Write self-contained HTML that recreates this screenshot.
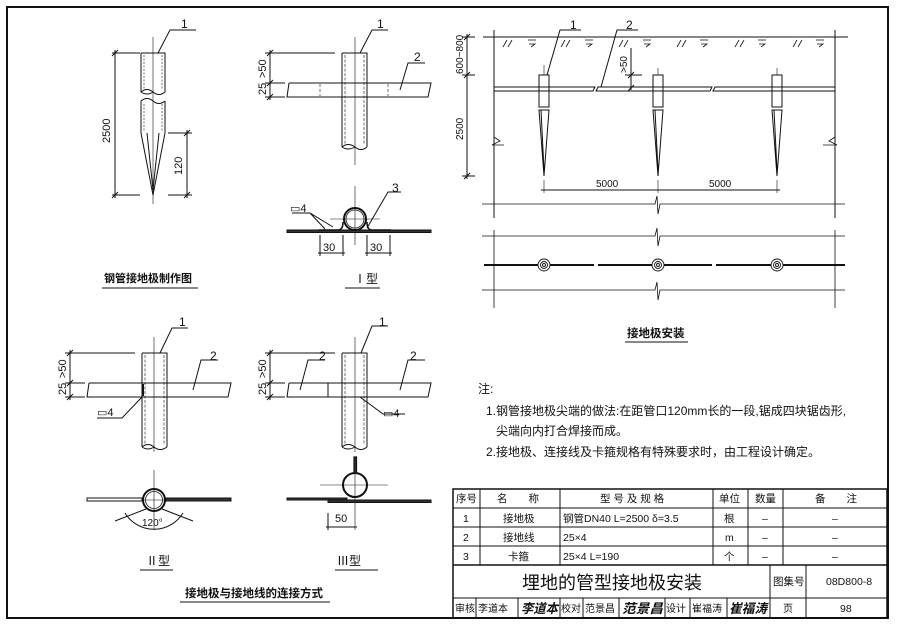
<!DOCTYPE html>
<html><head><meta charset="utf-8"><style>
html,body{margin:0;padding:0;background:#fff;}
svg{display:block;}
text{font-family:"Liberation Sans","Noto Sans CJK SC",sans-serif;fill:#111;}
</style></head><body>
<svg width="897" height="626" viewBox="0 0 897 626" xmlns="http://www.w3.org/2000/svg">
<g stroke="#111" fill="none" stroke-width="1">
<rect x="7" y="7" width="881" height="611" stroke-width="2"/>

<!-- Fig 1 -->
<line x1="153" y1="37" x2="153" y2="204" stroke-width="0.6"/>
<path d="M141 53 H165 V92 M141 53 V92"/>
<path d="M141 92 q6 -5 12 0 q6 5 12 0"/>
<path d="M141 92 q6 4 12 0" />
<path d="M141 101 q6 -5 12 0 q6 5 12 0 M141 101 V133 M165 101 V133 M141 133 L153 195 L165 133 M147 133 L153 190 L159 133"/>
<path d="M144 55 V90 M162 55 V90 M144 104 V132 M162 104 V132" stroke-dasharray="2,1.5" stroke-width="0.6"/>
<line x1="112" y1="53" x2="140" y2="53"/><line x1="112" y1="195" x2="140" y2="195"/>
<line x1="115" y1="50" x2="115" y2="198"/>
<line x1="112" y1="56" x2="118" y2="50"/><line x1="112" y1="198" x2="118" y2="192"/>
<line x1="168" y1="133" x2="192" y2="133"/><line x1="168" y1="195" x2="192" y2="195"/>
<line x1="187" y1="130" x2="187" y2="198"/>
<line x1="184" y1="136" x2="190" y2="130"/><line x1="184" y1="198" x2="190" y2="192"/>
<path d="M158 53 L170 30 H196"/>
<line x1="102" y1="288" x2="198" y2="288"/>

<!-- Fig I -->
<line x1="355" y1="37" x2="355" y2="165" stroke-width="0.6"/>
<path d="M342 53 H367 V147 M342 53 V147 M342 147 q6 -5 13 0 q6 5 12 0 M342 147 q6 4 13 0"/>
<path d="M345 55 V145 M364 55 V145" stroke-dasharray="3,1.5" stroke-width="0.6"/>
<path d="M289 83 H431 L428 97 H287 L289 83"/>
<path d="M320 84 V96 M388 84 V96" stroke-dasharray="3,2" stroke-width="0.6"/>
<line x1="265" y1="53" x2="335" y2="53"/><line x1="265" y1="83" x2="285" y2="83"/><line x1="265" y1="97" x2="285" y2="97"/>
<line x1="270" y1="50" x2="270" y2="100"/>
<line x1="267" y1="56" x2="273" y2="50"/><line x1="267" y1="86" x2="273" y2="80"/><line x1="267" y1="100" x2="273" y2="94"/>
<path d="M360 53 L372 30 H388"/>
<path d="M400 90 L408 63 H425"/>
<line x1="355" y1="186" x2="355" y2="245" stroke-width="0.6"/>
<line x1="330" y1="219" x2="380" y2="219" stroke-width="0.6"/>
<rect x="287" y="230" width="144" height="2.5" fill="#333"/>
<circle cx="355" cy="219" r="11" stroke-width="2"/>
<circle cx="355" cy="219" r="9" stroke-width="0.8"/>
<path d="M319 230 H338 q5 0 5 -8 M391 230 H372 q-5 0 -5 -8" stroke-width="1.5"/>
<path d="M292 213 H310 L333 227 M310 213 L325 229"/>
<path d="M367 228 L388 192 H401"/>
<path d="M320 235 V256 M343 235 V256 M367 235 V256 M390 235 V256"/>
<line x1="318" y1="253" x2="345" y2="253"/><line x1="365" y1="253" x2="392" y2="253"/>
<line x1="345" y1="288" x2="380" y2="288"/>

<!-- Fig II -->
<line x1="154" y1="337" x2="154" y2="452" stroke-width="0.6"/>
<path d="M142 353 H167 V447 M142 353 V447 M142 447 q6 -5 12 0 q6 5 13 0 M142 447 q6 4 12 0"/>
<path d="M145 355 V445 M164 355 V445" stroke-dasharray="3,1.5" stroke-width="0.6"/>
<path d="M89 383 H231 L228 397 H87 L89 383"/>
<path d="M143 384 V396" stroke-width="2"/>
<line x1="65" y1="353" x2="135" y2="353"/><line x1="65" y1="383" x2="85" y2="383"/><line x1="65" y1="397" x2="85" y2="397"/>
<line x1="70" y1="350" x2="70" y2="400"/>
<line x1="67" y1="356" x2="73" y2="350"/><line x1="67" y1="386" x2="73" y2="380"/><line x1="67" y1="400" x2="73" y2="394"/>
<path d="M160 353 L172 328 H188"/>
<path d="M193 390 L201 360 H218"/>
<path d="M97 418 H122 L142 397"/>
<line x1="154" y1="470" x2="154" y2="530" stroke-width="0.6"/>
<line x1="128" y1="500" x2="180" y2="500" stroke-width="0.6"/>
<rect x="87" y="498" width="55" height="3" fill="#fff"/>
<rect x="166" y="498" width="65" height="3" fill="#333"/>
<circle cx="154" cy="500" r="11" stroke-width="2"/>
<circle cx="154" cy="500" r="8.5" stroke-width="0.8"/>
<path d="M115 521 L146 509 M193 521 L162 509"/>
<path d="M125 513 A34 34 0 0 0 183 513"/>
<line x1="140" y1="570" x2="173" y2="570"/>

<!-- Fig III -->
<line x1="355" y1="337" x2="355" y2="452" stroke-width="0.6"/>
<path d="M342 353 H367 V447 M342 353 V447 M342 447 q6 -5 13 0 q6 5 12 0 M342 447 q6 4 13 0"/>
<path d="M345 355 V445 M364 355 V445" stroke-dasharray="3,1.5" stroke-width="0.6"/>
<path d="M289 383 H431 L428 397 H287 L289 383 M328 383 V397"/>
<line x1="265" y1="353" x2="335" y2="353"/><line x1="265" y1="383" x2="285" y2="383"/><line x1="265" y1="397" x2="285" y2="397"/>
<line x1="270" y1="350" x2="270" y2="400"/>
<line x1="267" y1="356" x2="273" y2="350"/><line x1="267" y1="386" x2="273" y2="380"/><line x1="267" y1="400" x2="273" y2="394"/>
<path d="M361 353 L372 326 H388"/>
<path d="M300 390 L308 360 H325"/>
<path d="M400 390 L408 360 H425"/>
<path d="M360 397 L383 414 H405"/>
<line x1="355" y1="470" x2="355" y2="530" stroke-width="0.6"/>
<line x1="320" y1="485" x2="388" y2="485" stroke-width="0.6"/>
<rect x="287" y="498" width="60" height="2" fill="#333"/>
<rect x="328" y="500" width="103" height="2.5" fill="#333"/>
<circle cx="355" cy="485" r="12" stroke-width="2"/>
<path d="M354 473 V457 H356.5 V473" stroke-width="1.2" fill="#333"/>
<path d="M328 513 V530"/><line x1="326" y1="527" x2="357" y2="527"/>
<line x1="335" y1="570" x2="378" y2="570"/>
<line x1="180" y1="602" x2="330" y2="602"/>

<!-- Right -->
<line x1="483" y1="37" x2="848" y2="37"/>
<line x1="494" y1="30" x2="494" y2="218"/><line x1="835" y1="30" x2="835" y2="218"/>
<path d="M494 137 L500 141 L492 145 H504 M835 137 L829 141 L837 145 H823" stroke-width="0.8"/>
<g stroke-width="0.8">
<path d="M503 47 L507 40 M508 47 L512 40 M528 40 H536 M529 44 L535 44 L531 47"/>
<path d="M561 47 L565 40 M566 47 L570 40 M585 40 H593 M586 44 L592 44 L588 47"/>
<path d="M619 47 L623 40 M624 47 L628 40 M643 40 H651 M644 44 L650 44 L646 47"/>
<path d="M677 47 L681 40 M682 47 L686 40 M700 40 H708 M701 44 L707 44 L703 47"/>
<path d="M735 47 L739 40 M740 47 L744 40 M758 40 H766 M759 44 L765 44 L761 47"/>
<path d="M793 47 L797 40 M798 47 L802 40 M816 40 H824 M817 44 L823 44 L819 47"/>
</g>
<path d="M494 87 H595 L593 91 H494 Z M598 87 H712 L710 91 H596 Z M715 87 H835 V91 H713 Z"/>
<path d="M539 75 H549 V107 H539 Z M539 110 H549 L544 176 Z M541 110 L544 170"/>
<line x1="544" y1="65" x2="544" y2="75" stroke-width="0.6"/>
<path d="M653 75 H663 V107 H653 Z M653 110 H663 L658 176 Z M655 110 L658 170"/>
<line x1="658" y1="68" x2="658" y2="75" stroke-width="0.6"/>
<path d="M772 75 H782 V107 H772 Z M772 110 H782 L777 176 Z M774 110 L777 170"/>
<line x1="777" y1="68" x2="777" y2="75" stroke-width="0.6"/>
<path d="M547 75 L560 30 H581 M601 87 L617 30 H638"/>
<line x1="462" y1="37" x2="475" y2="37"/><line x1="462" y1="75" x2="475" y2="75"/><line x1="462" y1="176" x2="475" y2="176"/>
<line x1="467" y1="34" x2="467" y2="179"/>
<line x1="464" y1="40" x2="470" y2="34"/><line x1="464" y1="78" x2="470" y2="72"/><line x1="464" y1="179" x2="470" y2="173"/>
<line x1="631" y1="48" x2="631" y2="90"/><line x1="625" y1="75" x2="642" y2="75"/>
<line x1="628" y1="78" x2="634" y2="72"/><line x1="628" y1="91" x2="634" y2="85"/>
<line x1="544" y1="180" x2="544" y2="193" stroke-width="0.6"/><line x1="658" y1="180" x2="658" y2="193" stroke-width="0.6"/><line x1="777" y1="180" x2="777" y2="193" stroke-width="0.6"/>
<line x1="541" y1="190" x2="780" y2="190"/>
<g stroke-width="0.8">
<path d="M482 204 H655 L657 196 L658 214 L660 204 H845"/>
<path d="M482 236 H655 L657 228 L658 246 L660 236 H845"/>
<path d="M482 290 H655 L657 282 L658 300 L660 290 H845"/>
<line x1="494" y1="230" x2="494" y2="308"/><line x1="835" y1="230" x2="835" y2="308"/>
</g>
<path d="M484 265 H594 M598 265 H712 M716 265 H845" stroke-width="2"/>
<g stroke-width="0.9">
<circle cx="544" cy="265" r="6" fill="#fff"/><circle cx="544" cy="265" r="3.5"/><circle cx="544" cy="265" r="1.5"/>
<circle cx="658" cy="265" r="6" fill="#fff"/><circle cx="658" cy="265" r="3.5"/><circle cx="658" cy="265" r="1.5"/>
<circle cx="777" cy="265" r="6" fill="#fff"/><circle cx="777" cy="265" r="3.5"/><circle cx="777" cy="265" r="1.5"/>
</g>
<line x1="625" y1="342" x2="688" y2="342"/>

<!-- table -->
<g stroke-width="1">
<rect x="453" y="489" width="434" height="129" stroke-width="1.5"/>
<line x1="453" y1="508" x2="887" y2="508"/>
<line x1="453" y1="527" x2="887" y2="527"/>
<line x1="453" y1="546" x2="887" y2="546"/>
<line x1="453" y1="565" x2="887" y2="565" stroke-width="1.5"/>
<line x1="453" y1="598" x2="887" y2="598"/>
<line x1="480" y1="489" x2="480" y2="565"/>
<line x1="560" y1="489" x2="560" y2="565"/>
<line x1="713" y1="489" x2="713" y2="565"/>
<line x1="748" y1="489" x2="748" y2="565"/>
<line x1="783" y1="489" x2="783" y2="565"/>
<line x1="770" y1="565" x2="770" y2="618"/>
<line x1="806" y1="565" x2="806" y2="618"/>
<line x1="476" y1="598" x2="476" y2="618"/><line x1="518" y1="598" x2="518" y2="618"/>
<line x1="560" y1="598" x2="560" y2="618"/><line x1="583" y1="598" x2="583" y2="618"/>
<line x1="619" y1="598" x2="619" y2="618"/><line x1="665" y1="598" x2="665" y2="618"/>
<line x1="690" y1="598" x2="690" y2="618"/><line x1="727" y1="598" x2="727" y2="618"/>
</g>
</g>

<g font-size="12">
<text x="181" y="28">1</text>
<text font-size="11" transform="translate(110,143) rotate(-90)">2500</text>
<text font-size="11" transform="translate(182,175) rotate(-90)">120</text>
<text x="104" y="282" font-size="11" font-weight="bold">钢管接地极制作图</text>
<text x="377" y="28">1</text>
<text x="414" y="61">2</text>
<text font-size="11" transform="translate(266,95) rotate(-90)">25</text>
<text font-size="11" transform="translate(266,78) rotate(-90)">&gt;50</text>
<text x="392" y="192">3</text>
<text x="290" y="212" font-size="11">▭4</text>
<text x="323" y="251" font-size="11">30</text>
<text x="370" y="251" font-size="11">30</text>
<text x="354" y="283">Ⅰ型</text>
<text x="179" y="326">1</text>
<text x="210" y="360">2</text>
<text font-size="11" transform="translate(66,395) rotate(-90)">25</text>
<text font-size="11" transform="translate(66,378) rotate(-90)">&gt;50</text>
<text x="97" y="416" font-size="11">▭4</text>
<text x="142" y="526" font-size="10">120°</text>
<text x="146" y="565">Ⅱ型</text>
<text x="379" y="326">1</text>
<text x="319" y="360">2</text>
<text x="410" y="360">2</text>
<text font-size="11" transform="translate(266,395) rotate(-90)">25</text>
<text font-size="11" transform="translate(266,378) rotate(-90)">&gt;50</text>
<text x="383" y="417" font-size="11">▭4</text>
<text x="335" y="522" font-size="11">50</text>
<text x="337" y="565">Ⅲ型</text>
<text x="185" y="597" font-size="11.5" font-weight="bold">接地极与接地线的连接方式</text>
<text x="570" y="29">1</text>
<text x="626" y="29">2</text>
<text font-size="10" transform="translate(463,74) rotate(-90)">600~800</text>
<text font-size="10" transform="translate(463,140) rotate(-90)">2500</text>
<text font-size="10" transform="translate(627,73) rotate(-90)">&gt;50</text>
<text x="596" y="187" font-size="10">5000</text>
<text x="709" y="187" font-size="10">5000</text>
<text x="627" y="337" font-size="11.5" font-weight="bold">接地极安装</text>
<text x="478" y="393">注:</text>
<text x="486" y="415">1.钢管接地极尖端的做法:在距管口120mm长的一段,锯成四块锯齿形,</text>
<text x="496" y="435">尖端向内打合焊接而成。</text>
<text x="486" y="456">2.接地极、连接线及卡箍规格有特殊要求时，由工程设计确定。</text>
</g>
<g font-size="10.5">
<text x="456" y="502">序号</text>
<text x="497" y="502">名　　称</text>
<text x="600" y="502">型 号 及 规 格</text>
<text x="719" y="502">单位</text>
<text x="755" y="502">数量</text>
<text x="815" y="502">备　　注</text>
<text x="463" y="522">1</text><text x="503" y="522">接地极</text><text x="563" y="522">钢管DN40  L=2500  δ=3.5</text><text x="724" y="522">根</text><text x="762" y="522">–</text><text x="832" y="522">–</text>
<text x="463" y="541">2</text><text x="503" y="541">接地线</text><text x="563" y="541">25×4</text><text x="725" y="541">m</text><text x="762" y="541">–</text><text x="832" y="541">–</text>
<text x="463" y="560">3</text><text x="508" y="560">卡箍</text><text x="563" y="560">25×4    L=190</text><text x="724" y="560">个</text><text x="762" y="560">–</text><text x="832" y="560">–</text>
<text x="522" y="589" font-size="18">埋地的管型接地极安装</text>
<text x="773" y="585">图集号</text>
<text x="826" y="585" font-family="Liberation Serif,serif">08D800-8</text>
<text x="455" y="612" font-size="10">审核</text>
<text x="478" y="612" font-size="10">李道本</text>
<text x="521" y="613" font-size="13" font-style="italic" font-weight="bold" textLength="37" lengthAdjust="spacingAndGlyphs">李道本</text>
<text x="561" y="612" font-size="10">校对</text>
<text x="585" y="612" font-size="10">范景昌</text>
<text x="622" y="613" font-size="13" font-style="italic" font-weight="bold" textLength="41" lengthAdjust="spacingAndGlyphs">范景昌</text>
<text x="666" y="612" font-size="10">设计</text>
<text x="692" y="612" font-size="10">崔福涛</text>
<text x="729" y="613" font-size="13" font-style="italic" font-weight="bold" textLength="38" lengthAdjust="spacingAndGlyphs">崔福涛</text>
<text x="783" y="612" font-size="10">页</text>
<text x="840" y="612" font-family="Liberation Serif,serif">98</text>
</g>
</svg>
</body></html>
